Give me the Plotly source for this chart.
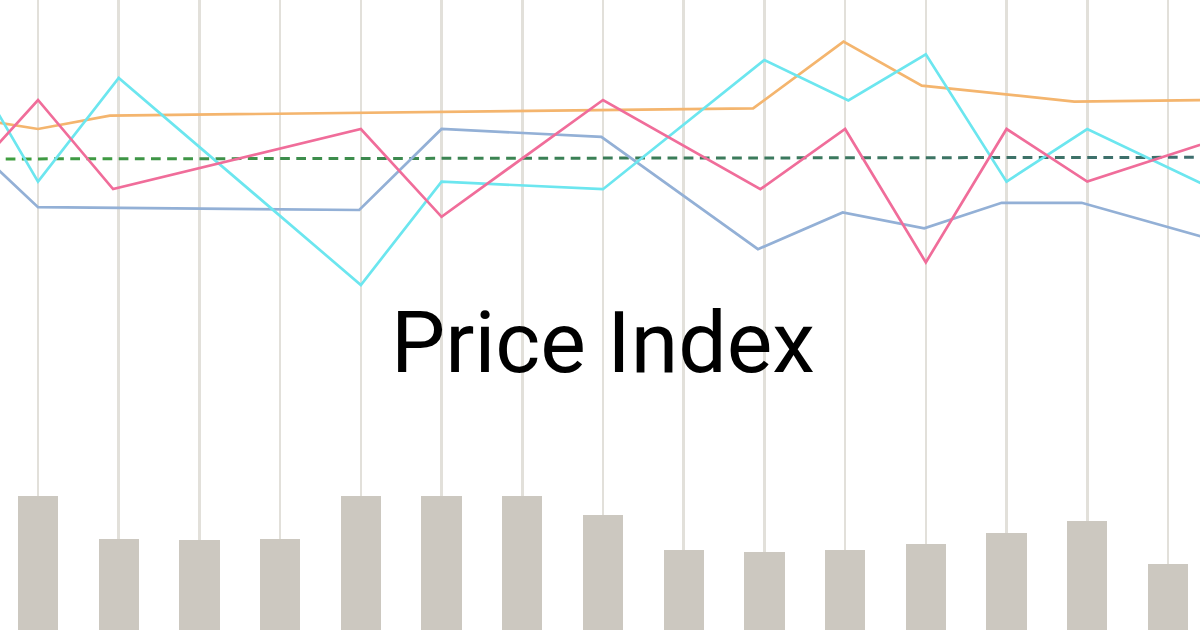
import plotly.graph_objects as go

# ---- data ----
categories = list(range(15))
volume = [100, 68, 67, 68, 100, 100, 100, 86, 60, 58, 60, 64, 72, 81, 49]

orange_x = [-1, 0, 0.89, 8.86, 9.98, 10.95, 12.84, 15]
orange_y = [110.5, 107.25, 110.6, 112.4, 129.1, 118.1, 114.1, 114.6]

pink_x = [-1, 0, 0.93, 4, 5, 7, 8.95, 10, 11, 12, 13, 15]
pink_y = [92.25, 114.5, 92.25, 107.25, 85.3, 114.5, 92.2, 107.25, 73.9, 107.25, 94.1, 107.25]

cyan_x = [-1, 0, 1, 4, 5, 7, 9, 10.04, 11, 12, 13, 15]
cyan_y = [128.6, 94.1, 120.0, 68.25, 94.1, 92.2, 124.5, 114.4, 125.9, 94.1, 107.25, 88.0]

blue_x = [-1, 0, 3.98, 5, 6.98, 8.92, 9.97, 10.98, 11.94, 12.93, 15]
blue_y = [106.7, 87.7, 87.0, 107.25, 105.3, 77.2, 86.4, 82.4, 88.8, 88.8, 77.05]

baseline_x = list(range(-1, 16))
baseline_y = [99.75, 99.78, 99.8, 99.83, 99.86, 99.89, 99.91, 99.94, 99.97,
              100.0, 100.02, 100.05, 100.08, 100.11, 100.13, 100.16, 100.19]

title_text = "Price Index"

# ---- style ----
grid_color = "#e2e0da"
bar_color = "#ccc8c0"
gradient_stops = [(0.0, (64, 158, 64)), (0.5, (58, 126, 86)), (1.0, (62, 110, 110))]


def grad_color(t):
    for (t0, c0), (t1, c1) in zip(gradient_stops[:-1], gradient_stops[1:]):
        if t <= t1:
            f = (t - t0) / (t1 - t0) if t1 > t0 else 0
            c = [round(a + (b - a) * f) for a, b in zip(c0, c1)]
            return "rgb(%d,%d,%d)" % tuple(c)
    return "rgb(%d,%d,%d)" % gradient_stops[-1][1]


fig = go.Figure()

# volume bars on secondary axis
fig.add_trace(go.Bar(x=categories, y=volume, marker=dict(color=bar_color, line=dict(width=0)),
                     width=0.5, yaxis="y2", showlegend=False, hoverinfo="skip"))

# dashed baseline drawn as consecutive segments with a colour gradient
nseg = len(baseline_x) - 1
for k in range(nseg):
    fig.add_trace(go.Scatter(
        x=baseline_x[k:k + 2], y=baseline_y[k:k + 2], mode="lines",
        line=dict(color=grad_color(k / (nseg - 1)), width=3, dash="9.7px,6.44px"),
        showlegend=False, hoverinfo="skip"))

for xs, ys, col in [(blue_x, blue_y, "#93b0d6"),
                    (orange_x, orange_y, "#f4b56e"),
                    (cyan_x, cyan_y, "#6ce6ef"),
                    (pink_x, pink_y, "#f06d9a")]:
    fig.add_trace(go.Scatter(x=xs, y=ys, mode="lines", line=dict(color=col, width=2.7),
                             showlegend=False, hoverinfo="skip"))

fig.add_annotation(text=title_text, x=0.5025, y=1 - 342 / 630, xref="paper", yref="paper",
                   xanchor="center", yanchor="middle", showarrow=False,
                   font=dict(family="Roboto", size=86, color="#000000"))

fig.update_layout(
    width=1200, height=630,
    margin=dict(l=0, r=0, t=0, b=0),
    paper_bgcolor="white", plot_bgcolor="white",
    xaxis=dict(range=[-0.471, 14.397], tick0=0, dtick=1, showgrid=True,
               gridcolor=grid_color, gridwidth=2.6, showticklabels=False,
               zeroline=False, showline=False, ticks=""),
    yaxis=dict(range=[-18, 139.5], showgrid=False, showticklabels=False,
               zeroline=False, showline=False),
    yaxis2=dict(range=[0, 470], overlaying="y", showgrid=False, showticklabels=False,
                zeroline=False, showline=False),
    bargap=0,
)

fig.write_html("out.html",
               config={"displayModeBar": False, "staticPlot": True},
               post_script="document.body.style.margin='0';document.body.style.overflow='hidden';")
